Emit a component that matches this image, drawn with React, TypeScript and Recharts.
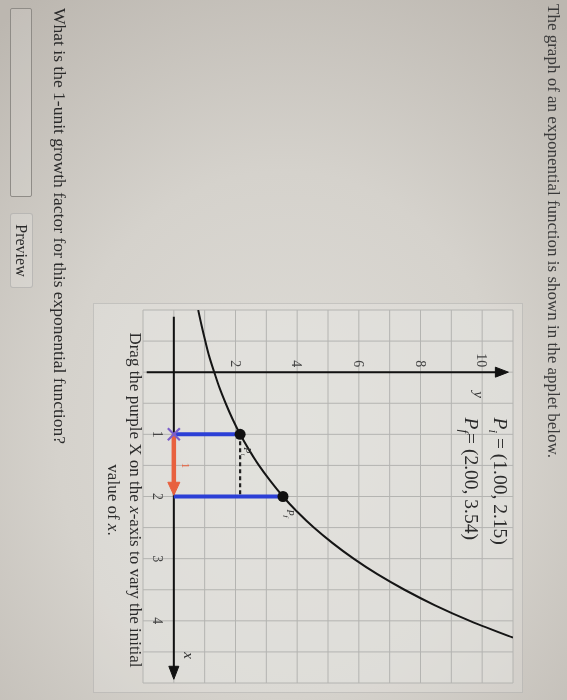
import React from 'react';
import { ComposedChart, XAxis, YAxis, CartesianGrid, Line, Scatter, ReferenceLine } from 'recharts';

// grid values
const xGrid = [-1, -0.5, 0, 0.5, 1, 1.5, 2, 2.5, 3, 3.5, 4, 4.5, 5];
const yGrid = [-1, 0, 1, 2, 3, 4, 5, 6, 7, 8, 9, 10, 11];
const xTickLabels = [1, 2, 3, 4];
const yTickLabels = [2, 4, 6, 8, 10];

// exponential curve
const curveX = [-1, -0.75, -0.5, -0.25, 0, 0.25, 0.5, 0.75, 1, 1.25, 1.5, 1.75, 2, 2.25, 2.5, 2.75, 3, 3.25, 3.5, 3.75, 4, 4.27];
const curveY = [0.79, 0.9, 1.02, 1.15, 1.31, 1.48, 1.68, 1.9, 2.15, 2.44, 2.76, 3.13, 3.54, 4.01, 4.54, 5.15, 5.83, 6.6, 7.48, 8.47, 9.6, 11.0];

const pointI = { x: 1, y: 2.15 };
const pointF = { x: 2, y: 3.54 };

const xAxisSpan = [-0.89, 4.8];
const yAxisSpan = [-0.88, 10.6];
const xArrowTip = 4.94;
const yArrowTip = 10.85;

const curve = curveX.map((x, i) => ({ x, y: curveY[i] }));

const BLUE = '#2b3fd6';
const RED = '#e8613f';
const PURPLE = '#7b5fc9';
const SERIF = '"Liberation Serif", "Times New Roman", serif';

const ArrowHead = (props: any) => {
  const { cx, cy, payload } = props;
  const c = payload.color;
  const L = payload.len;
  const W = payload.half;
  let pts = '';
  if (payload.dir === 'right') pts = `${cx},${cy} ${cx - L},${cy - W} ${cx - L},${cy + W}`;
  else pts = `${cx},${cy} ${cx - W},${cy + L} ${cx + W},${cy + L}`;
  return <polygon points={pts} fill={c} stroke={c} strokeWidth={1} />;
};

const XTick = (props: any) => {
  const { cx, cy, payload } = props;
  return (
    <text x={cx} y={cy + 21} textAnchor="middle" fontSize={14} fontFamily={SERIF} fill="#444">
      {payload.x}
    </text>
  );
};

const YTick = (props: any) => {
  const { cx, cy, payload } = props;
  return (
    <text x={cx - 5} y={cy + 5} textAnchor="end" fontSize={14} fontFamily={SERIF} fill="#444">
      {payload.y}
    </text>
  );
};

const AxisName = (props: any) => {
  const { cx, cy, payload } = props;
  return (
    <text x={cx} y={cy} dy="0.35em" textAnchor="middle" fontSize={15} fontStyle="italic" fontFamily={SERIF} fill="#333">
      {payload.name}
    </text>
  );
};

const PurpleX = (props: any) => {
  const { cx, cy } = props;
  const s = 6;
  return (
    <g stroke={PURPLE} strokeWidth={2.2}>
      <line x1={cx - s} y1={cy - s} x2={cx + s} y2={cy + s} />
      <line x1={cx - s} y1={cy + s} x2={cx + s} y2={cy - s} />
    </g>
  );
};

const BlackDot = (props: any) => {
  const { cx, cy } = props;
  return <circle cx={cx} cy={cy} r={5.5} fill="#111" />;
};

const PointLabel = (props: any) => {
  const { cx, cy, payload } = props;
  return (
    <text x={cx + 17} y={cy - 4} textAnchor="middle" fontSize={10} fontStyle="italic" fontFamily={SERIF} fill="#333">
      P<tspan fontSize={7} dy={3}>{payload.sub}</tspan>
    </text>
  );
};

const RedOne = (props: any) => {
  const { cx, cy } = props;
  return (
    <text x={cx} y={cy} dy="0.35em" textAnchor="middle" fontSize={11} fontFamily={SERIF} fill={RED}>
      1
    </text>
  );
};

const InfoText = (props: any) => {
  const { cx, cy, payload } = props;
  return (
    <text x={cx} y={cy} dy="0.35em" textAnchor="start" fontSize={19.5} fontFamily={SERIF} fill="#2b2b2b">
      <tspan fontStyle="italic">P</tspan>
      <tspan fontStyle="italic" fontSize={13} dy={5}>{payload.sub}</tspan>
      <tspan dy={-5}>{payload.sub === 'i' ? ' = ' : '= '}({payload.px.toFixed(2)}, {payload.py.toFixed(2)})</tspan>
    </text>
  );
};

export default function App() {
  const arrowHeads = [
    { x: xArrowTip, y: 0, dir: 'right', color: '#111', len: 13, half: 5 },
    { x: 0, y: yArrowTip, dir: 'up', color: '#111', len: 13, half: 5 },
    { x: pointF.x - 0.02, y: 0, dir: 'right', color: RED, len: 13, half: 6 },
  ];
  const xTicks = xTickLabels.map((x) => ({ x, y: 0 }));
  const yTicks = yTickLabels.map((y) => ({ x: 0, y }));
  const axisNames = [
    { x: 4.56, y: 0.5, name: 'x' },
    { x: 0.36, y: 9.9, name: 'y' },
  ];
  const pointLabels = [
    { x: pointI.x, y: pointI.y, sub: 'i' },
    { x: pointF.x, y: pointF.y, sub: 'f' },
  ];
  const infoTexts = [
    { x: 0.73, y: 10.6, sub: 'i', px: pointI.x, py: pointI.y },
    { x: 0.73, y: 9.65, sub: 'f', px: pointF.x, py: pointF.y },
  ];

  return (
    <div
      style={{
        position: 'fixed',
        left: 0,
        top: 0,
        width: 567,
        height: 700,
        overflow: 'hidden',
        background:
          'radial-gradient(ellipse 80% 75% at 50% 62%, #dedcd7 0%, #d5d2cc 50%, #bcb7b0 100%)',
      }}
    >
      <div
        style={{
          position: 'absolute',
          left: 0,
          top: 0,
          width: 700,
          height: 567,
          transform: 'translate(567px, 0px) rotate(90deg)',
          transformOrigin: '0 0',
          fontFamily: SERIF,
          color: '#2b2b2b',
        }}
      >
        <div style={{ position: 'absolute', left: 4, top: 4, fontSize: 17, lineHeight: '20px', whiteSpace: 'nowrap', color: '#3a3a3a' }}>
          The graph of an exponential function is shown in the applet below.
        </div>

        <div
          style={{
            position: 'absolute',
            left: 303,
            top: 44,
            width: 390,
            height: 430,
            boxSizing: 'border-box',
            background: 'rgba(255,255,255,0.16)',
            border: '1px solid rgba(150,150,150,0.35)',
          }}
        />

        <div style={{ position: 'absolute', left: 303, top: 44 }}>
          <ComposedChart width={390} height={430} margin={{ top: 10, right: 10, bottom: 50, left: 7 }}>
            <XAxis type="number" dataKey="x" domain={[-1, 5]} ticks={xGrid} hide allowDataOverflow />
            <YAxis type="number" dataKey="y" domain={[-1, 11]} ticks={yGrid} hide allowDataOverflow />
            <CartesianGrid
              horizontalValues={yGrid}
              verticalValues={xGrid}
              stroke="#b4b4b1"
              strokeWidth={1}
              fill="#e2e1dd"
              fillOpacity={0.5}
            />
            <ReferenceLine segment={[{ x: xAxisSpan[0], y: 0 }, { x: xAxisSpan[1], y: 0 }]} stroke="#111" strokeWidth={2} />
            <ReferenceLine segment={[{ x: 0, y: yAxisSpan[0] }, { x: 0, y: yAxisSpan[1] }]} stroke="#111" strokeWidth={2} />
            <Line data={curve} dataKey="y" type="monotone" stroke="#151515" strokeWidth={2} dot={false} isAnimationActive={false} />
            <ReferenceLine segment={[{ x: pointI.x, y: 0 }, { x: pointI.x, y: pointI.y }]} stroke={BLUE} strokeWidth={4} />
            <ReferenceLine segment={[{ x: pointF.x, y: 0 }, { x: pointF.x, y: pointF.y }]} stroke={BLUE} strokeWidth={4} />
            <ReferenceLine
              segment={[{ x: pointI.x, y: pointI.y }, { x: pointF.x, y: pointI.y }]}
              stroke="#222"
              strokeWidth={2.2}
              strokeDasharray="4 3"
            />
            <ReferenceLine segment={[{ x: pointI.x, y: 0 }, { x: pointF.x - 0.18, y: 0 }]} stroke={RED} strokeWidth={4.5} />
            <Scatter data={arrowHeads} dataKey="y" shape={ArrowHead} isAnimationActive={false} />
            <Scatter data={xTicks} dataKey="y" shape={XTick} isAnimationActive={false} />
            <Scatter data={yTicks} dataKey="y" shape={YTick} isAnimationActive={false} />
            <Scatter data={axisNames} dataKey="y" shape={AxisName} isAnimationActive={false} />
            <Scatter data={[{ x: 1.5, y: 0.4 }]} dataKey="y" shape={RedOne} isAnimationActive={false} />
            <Scatter data={[{ x: pointI.x, y: 0 }]} dataKey="y" shape={PurpleX} isAnimationActive={false} />
            <Scatter data={[pointI, pointF]} dataKey="y" shape={BlackDot} isAnimationActive={false} />
            <Scatter data={pointLabels} dataKey="y" shape={PointLabel} isAnimationActive={false} />
            <Scatter data={infoTexts} dataKey="y" shape={InfoText} isAnimationActive={false} />
          </ComposedChart>
        </div>

        <div
          style={{
            position: 'absolute',
            left: 300,
            top: 421,
            width: 400,
            textAlign: 'center',
            fontSize: 17,
            lineHeight: '22px',
            whiteSpace: 'nowrap',
          }}
        >
          Drag the purple X on the <i>x</i>-axis to vary the initial
          <br />
          value of <i>x</i>.
        </div>

        <div style={{ position: 'absolute', left: 8, top: 497, fontSize: 17.5, lineHeight: '20px', whiteSpace: 'nowrap' }}>
          What is the 1-unit growth factor for this exponential function?
        </div>

        <div
          style={{
            position: 'absolute',
            left: 8,
            top: 535,
            width: 189,
            height: 22,
            boxSizing: 'border-box',
            border: '1px solid #8f8c87',
            borderRadius: 2,
            background: 'rgba(255,255,255,0.12)',
          }}
        />
        <div
          style={{
            position: 'absolute',
            left: 213,
            top: 534,
            width: 75,
            height: 23,
            boxSizing: 'border-box',
            border: '1px solid rgba(150,150,150,0.45)',
            borderRadius: 3,
            background: 'rgba(255,255,255,0.18)',
            fontSize: 16,
            lineHeight: '21px',
            textAlign: 'center',
          }}
        >
          Preview
        </div>
      </div>
    </div>
  );
}
